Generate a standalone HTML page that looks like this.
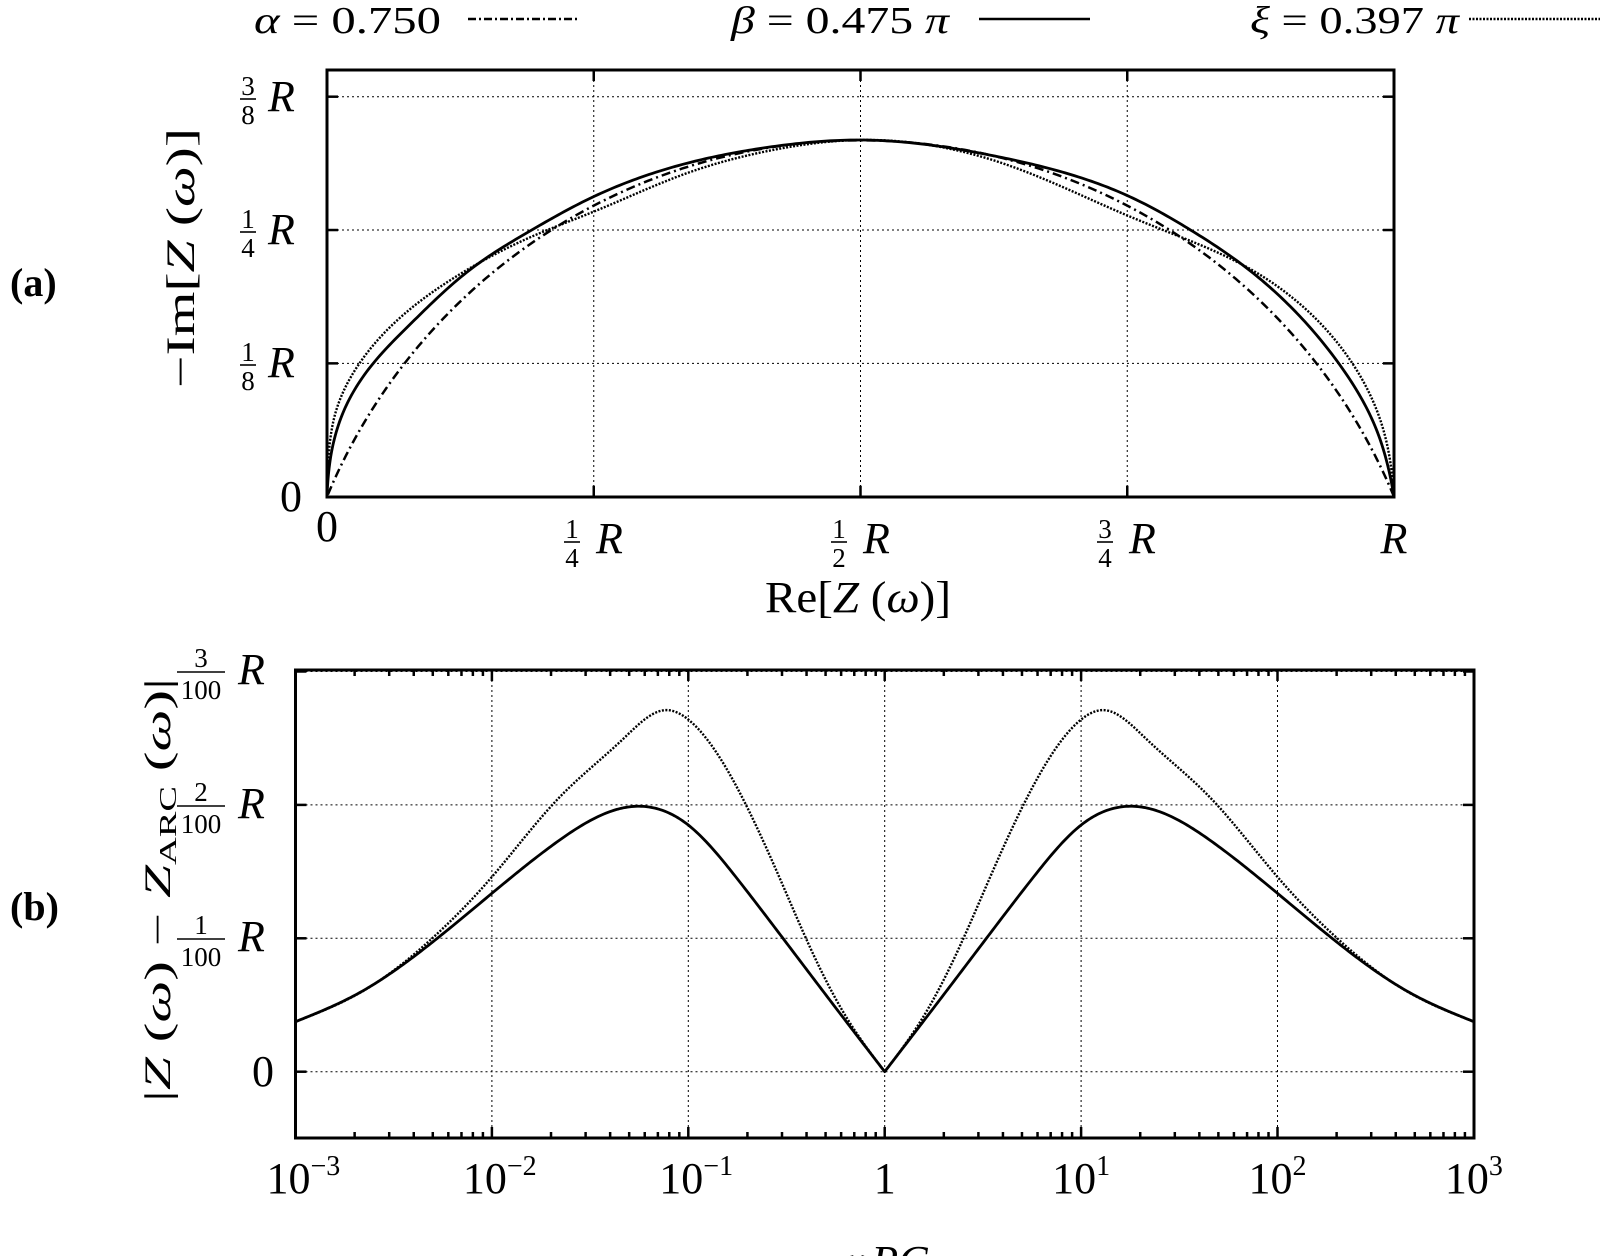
<!DOCTYPE html>
<html><head><meta charset="utf-8"><style>
html,body{margin:0;padding:0;background:#fff}
svg{display:block}
text{font-family:"Liberation Serif",serif;fill:#000}
.i{font-style:italic}
</style></head><body>
<svg id="s" width="1600" height="1256" viewBox="0 0 1600 1256" xmlns="http://www.w3.org/2000/svg">
<g font-size="38">
<text x="254" y="33" textLength="187" lengthAdjust="spacingAndGlyphs"><tspan class="i">α</tspan> = 0.750</text>
<text x="731" y="33" textLength="218" lengthAdjust="spacingAndGlyphs"><tspan class="i">β</tspan> = 0.475 <tspan class="i">π</tspan></text>
<text x="1250" y="33" textLength="209" lengthAdjust="spacingAndGlyphs"><tspan class="i">ξ</tspan> = 0.397 <tspan class="i">π</tspan></text>
</g>
<line x1="468" y1="19" x2="579" y2="19" stroke="#000" stroke-width="2.5" stroke-dasharray="8,3,2,3"/>
<line x1="979" y1="19" x2="1090" y2="19" stroke="#000" stroke-width="2.5"/>
<line x1="1469" y1="19" x2="1600" y2="19" stroke="#000" stroke-width="2.4" stroke-dasharray="2,1.5"/>

<g id="grid" stroke="#000" stroke-width="1" stroke-dasharray="2,3" fill="none"></g>
<g id="curves" fill="none" stroke="#000" stroke-linejoin="round"></g>
<g id="ticks" stroke="#000" stroke-width="2.5"></g>
<rect x="327" y="70" width="1067" height="427" fill="none" stroke="#000" stroke-width="3"/>
<rect x="295.5" y="670" width="1178.5" height="468" fill="none" stroke="#000" stroke-width="3"/>

<text x="10" y="296" font-size="40" font-weight="bold">(a)</text>
<text x="10" y="920" font-size="40" font-weight="bold">(b)</text>

<g font-size="27" text-anchor="middle">
<text x="248" y="95">3</text><text x="248" y="124">8</text>
<text x="248" y="228">1</text><text x="248" y="257">4</text>
<text x="248" y="361">1</text><text x="248" y="390">8</text>
</g>
<g stroke="#000" stroke-width="1.6">
<line x1="240" y1="99" x2="256" y2="99"/><line x1="240" y1="232" x2="256" y2="232"/><line x1="240" y1="365" x2="256" y2="365"/>
</g>
<g font-size="44">
<text x="268" y="111" class="i">R</text><text x="268" y="244" class="i">R</text><text x="268" y="377" class="i">R</text>
</g>
<text x="291" y="511" font-size="44" text-anchor="middle">0</text>

<text x="327" y="541" font-size="44" text-anchor="middle">0</text>
<g font-size="27" text-anchor="middle">
<text x="572" y="538">1</text><text x="572" y="567">4</text>
<text x="839" y="538">1</text><text x="839" y="567">2</text>
<text x="1105" y="538">3</text><text x="1105" y="567">4</text>
</g>
<g stroke="#000" stroke-width="1.6">
<line x1="564" y1="542" x2="580" y2="542"/><line x1="831" y1="542" x2="847" y2="542"/><line x1="1097" y1="542" x2="1113" y2="542"/>
</g>
<g font-size="44">
<text x="596" y="553" class="i">R</text><text x="863" y="553" class="i">R</text><text x="1129" y="553" class="i">R</text>
<text x="1394" y="553" class="i" text-anchor="middle">R</text>
</g>
<text x="765" y="612" font-size="44" textLength="186" lengthAdjust="spacingAndGlyphs">Re[<tspan class="i">Z</tspan> (<tspan class="i">ω</tspan>)]</text>
<text transform="translate(194,258) rotate(-90)" font-size="40" text-anchor="middle" textLength="260" lengthAdjust="spacingAndGlyphs">−Im[<tspan class="i">Z</tspan> (<tspan class="i">ω</tspan>)]</text>

<g font-size="27" text-anchor="middle">
<text x="201" y="667">3</text><text x="201" y="699">100</text>
<text x="201" y="801">2</text><text x="201" y="833">100</text>
<text x="201" y="934">1</text><text x="201" y="966">100</text>
</g>
<g stroke="#000" stroke-width="1.6">
<line x1="177" y1="672" x2="225" y2="672"/><line x1="177" y1="806" x2="225" y2="806"/><line x1="177" y1="939" x2="225" y2="939"/>
</g>
<g font-size="44">
<text x="238" y="684" class="i">R</text><text x="238" y="818" class="i">R</text><text x="238" y="951" class="i">R</text>
</g>
<text x="263" y="1086" font-size="44" text-anchor="middle">0</text>
<text transform="translate(170,890) rotate(-90)" font-size="37" text-anchor="middle" textLength="424" lengthAdjust="spacingAndGlyphs">|<tspan class="i">Z</tspan> (<tspan class="i">ω</tspan>) − <tspan class="i">Z</tspan><tspan font-size="24" dy="6">ARC</tspan><tspan dy="-6"> (</tspan><tspan class="i">ω</tspan>)|</text>

<g id="xl" font-size="44"></g>
<text x="884" y="1276" font-size="44" text-anchor="middle" class="i">ωRC</text>
</svg>
<script>
const NS="http://www.w3.org/2000/svg";
function el(p,t,a){const e=document.createElementNS(NS,t);for(const k in a)e.setAttribute(k,a[k]);p.appendChild(e);return e;}
const grid=document.getElementById('grid'),ticks=document.getElementById('ticks'),cur=document.getElementById('curves'),xl=document.getElementById('xl');
const ax0=327,ax1=1394,ay0=496.7,ay1=70;
const AX=u=>ax0+u*1067, AY=v=>ay0-v*1066.7;
for(let k=1;k<=3;k++){let x=AX(k/4);el(grid,'line',{x1:x,y1:ay1,x2:x,y2:ay0});
 el(ticks,'line',{x1:x,y1:ay0,x2:x,y2:ay0-11});el(ticks,'line',{x1:x,y1:ay1,x2:x,y2:ay1+11});}
for(let k=1;k<=3;k++){let y=AY(k/8);el(grid,'line',{x1:ax0,y1:y,x2:ax1,y2:y});
 el(ticks,'line',{x1:ax0,y1:y,x2:ax0+11,y2:y});el(ticks,'line',{x1:ax1,y1:y,x2:ax1-11,y2:y});}
const bx0=295.5,bx1=1474,by0=1138,by1=670;
const BX=L=>bx0+(L+3)*196.4, BY=v=>1071.7-v*133.4;
for(let d=-3;d<=3;d++){let x=BX(d);
 if(d>-3&&d<3){el(grid,'line',{x1:x,y1:by1,x2:x,y2:by0});
 el(ticks,'line',{x1:x,y1:by0,x2:x,y2:by0-11});el(ticks,'line',{x1:x,y1:by1,x2:x,y2:by1+11});}
 if(d<3)for(let m=2;m<=9;m++){let xm=BX(d+Math.log10(m));
  el(ticks,'line',{x1:xm,y1:by0,x2:xm,y2:by0-6});el(ticks,'line',{x1:xm,y1:by1,x2:xm,y2:by1+6});}
 if(d===0){const t=el(xl,'text',{x:x,y:1193,'text-anchor':'middle'});t.textContent='1';}
 else{const t=el(xl,'text',{x:x-7,y:1193,'text-anchor':'middle'});t.textContent='10';
  const s=el(xl,'text',{x:x+15,y:1175,'font-size':28});s.textContent=(d<0?'−':'')+Math.abs(d);}
}
for(let k=0;k<=3;k++){let y=BY(k);el(grid,'line',{x1:bx0,y1:y,x2:bx1,y2:y});
 el(ticks,'line',{x1:bx0,y1:y,x2:bx0+11,y2:y});el(ticks,'line',{x1:bx1,y1:y,x2:bx1-11,y2:y});}
function spline(xs,ys){const n=xs.length,h=[],al=[],l=[1],mu=[0],z=[0],c=new Array(n).fill(0),b=[],d=[];
 for(let i=0;i<n-1;i++)h.push(xs[i+1]-xs[i]);
 for(let i=1;i<n-1;i++)al[i]=3/h[i]*(ys[i+1]-ys[i])-3/h[i-1]*(ys[i]-ys[i-1]);
 for(let i=1;i<n-1;i++){l[i]=2*(xs[i+1]-xs[i-1])-h[i-1]*mu[i-1];mu[i]=h[i]/l[i];z[i]=(al[i]-h[i-1]*z[i-1])/l[i];}
 l[n-1]=1;z[n-1]=0;c[n-1]=0;
 for(let j=n-2;j>=0;j--){c[j]=z[j]-mu[j]*c[j+1];b[j]=(ys[j+1]-ys[j])/h[j]-h[j]*(c[j+1]+2*c[j])/3;d[j]=(c[j+1]-c[j])/(3*h[j]);}
 return x=>{let i=0;while(i<n-2&&x>xs[i+1])i++;const t=x-xs[i];return ys[i]+b[i]*t+c[i]*t*t+d[i]*t*t*t;};}
function pathOf(P){return 'M'+P.map(p=>p[0].toFixed(2)+','+p[1].toFixed(2)).join('L');}
const a=0.75;let arc=[];
for(let L=-5;L<=5.001;L+=0.02){const w=Math.pow(10,L),m=Math.pow(w,a),re=1+m*Math.cos(a*Math.PI/2),im=m*Math.sin(a*Math.PI/2),den=re*re+im*im;
 arc.push([AX(re/den),AY(im/den)]);}
el(cur,'path',{d:pathOf(arc),'stroke-width':2.5,'stroke-dasharray':'9,4,2,4'});
const cx=0.5,cy=-0.2073;
function polarCurve(pts){const th=[],rr=[];
 pts.forEach(p=>{th.push(Math.atan2(p[1]-cy,cx-p[0]));rr.push(Math.hypot(p[0]-cx,p[1]-cy));});
 const f=spline(th,rr);const out=[];const t0=th[0],t1=th[th.length-1];
 for(let k=0;k<=400;k++){const t=t0+(t1-t0)*k/400,r=f(t);out.push([AX(cx-r*Math.cos(t)),AY(cy+r*Math.sin(t))]);}
 return out;}
const sol=[[0,0],[0.0046,0.0438],[0.0175,0.0844],[0.0433,0.125],[0.0788,0.1625],[0.1337,0.2125],[0.1918,0.25],[0.2499,0.2813],[0.337,0.3125],[0.4177,0.3282],[0.5,0.3344],[0.6286,0.3188],[0.749,0.2828],[0.8094,0.25],[0.8643,0.2125],[0.9482,0.125],[0.9837,0.0625],[1,0]];
el(cur,'path',{d:pathOf(polarCurve(sol)),'stroke-width':2.8});
const dot=[[0,0],[0.0014,0.0375],[0.0078,0.0781],[0.0304,0.125],[0.0627,0.1625],[0.1208,0.2063],[0.1918,0.2438],[0.2499,0.2672],[0.337,0.3032],[0.4177,0.325],[0.5,0.3344],[0.6286,0.3141],[0.749,0.2641],[0.7836,0.25],[0.8643,0.214],[0.961,0.125],[0.9901,0.0625],[1,0]];
el(cur,'path',{d:pathOf(polarCurve(dot)),'stroke-width':2.4,'stroke-dasharray':'2,1.5'});
const bs=[[-3,0.375],[-2.679,0.588],[-2.289,0.987],[-2,1.337],[-1.667,1.724],[-1.316,1.982],[-1,1.849],[-0.758,1.46],[-0.518,1.0],[-0.25,0.48],[0,0]];
const bd=[[-3,0.375],[-2.65,0.61],[-2.289,1.02],[-2,1.46],[-1.667,2.04],[-1.335,2.49],[-1.122,2.71],[-1,2.64],[-0.713,2.02],[-0.518,1.395],[-0.401,1.0],[-0.207,0.437],[0,0]];
function both(P,attrs){const f=spline(P.map(p=>p[0]),P.map(p=>p[1]));const l=[],r=[];
 for(let L=-3;L<=0.0001;L+=0.01){l.push([BX(L),BY(Math.max(0,f(L)))]);}
 for(let L=0;L<=3.0001;L+=0.01){r.push([BX(L),BY(Math.max(0,f(-L)))]);}
 el(cur,'path',Object.assign({d:pathOf(l.concat(r))},attrs));}
both(bd,{'stroke-width':2.4,'stroke-dasharray':'2,1.5'});
both(bs,{'stroke-width':2.8});
</script>
</body></html>
